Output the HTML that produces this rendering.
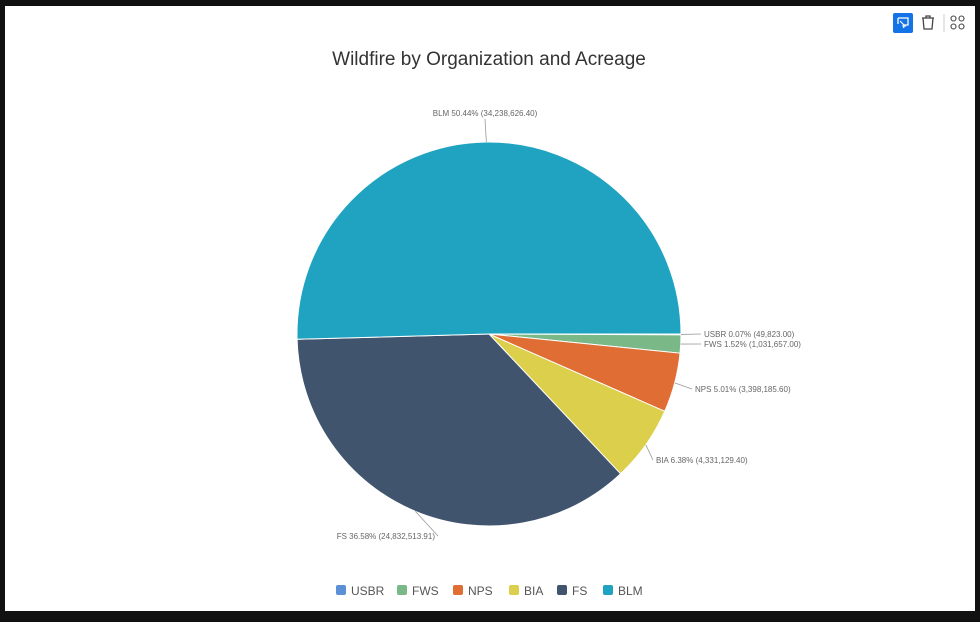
<!DOCTYPE html>
<html><head><meta charset="utf-8"><style>
html,body{margin:0;padding:0;background:#111;}
#frame{position:absolute;left:5px;top:6px;width:970px;height:605px;background:#fff;}
svg{position:absolute;left:0;top:0;}
text{font-family:"Liberation Sans",sans-serif;}
</style></head><body>
<div id="frame"></div>
<svg id="chart" width="980" height="622">
  <rect x="893" y="13" width="20" height="20" rx="2" fill="#1473e6"/>
  <path d="M898 18h10v7h-4M898 18v6" stroke="#fff" stroke-width="1.3" fill="none"/>
  <path d="M900 21l5 5-2 0 1 2" stroke="#fff" stroke-width="1.2" fill="none"/>
  <g stroke="#444" fill="none" stroke-width="1.3">
    <path d="M922 18h12M926 18v-2h4v2M923 18l1 11h8l1-11"/>
  </g>
  <line x1="944" y1="14" x2="944" y2="32" stroke="#ccc"/>
  <g stroke="#444" fill="none" stroke-width="1.1">
    <circle cx="953.5" cy="18.5" r="2.5"/><circle cx="961.5" cy="18.5" r="2.5"/><circle cx="953.5" cy="26.5" r="2.5"/><circle cx="961.5" cy="26.5" r="2.5"/>
  </g>
  <text x="489" y="65" font-size="19" fill="#333" text-anchor="middle">Wildfire by Organization and Acreage</text>
  <g id="slices"></g>
  <g id="labels"></g>
  <g id="legend"></g>
</svg>
<script>
const categories=["USBR","FWS","NPS","BIA","FS","BLM"];
const values=[49823.00,1031657.00,3398185.60,4331129.40,24832513.91,34238626.40];
const colors=["#5b8fd6","#7bb887","#e06d33","#dccf4b","#40546e","#1fa3c1"];
const labelPos=[[704,337,"start"],[704,347,"start"],[695,392,"start"],[656,463,"start"],[435,539,"end"],[485,116,"middle"]];
const cx=489,cy=334,r=192;
const NS="http://www.w3.org/2000/svg";
const total=values.reduce((a,b)=>a+b,0);
const sg=document.getElementById('slices'),lg=document.getElementById('labels'),leg=document.getElementById('legend');
function pt(a,rr){return [cx+rr*Math.cos(a),cy+rr*Math.sin(a)];}
let a0=0;
values.forEach((v,i)=>{
  const a1=a0+v/total*2*Math.PI;
  const p0=pt(a0,r),p1=pt(a1,r);
  const large=(a1-a0)>Math.PI?1:0;
  const p=document.createElementNS(NS,'path');
  p.setAttribute('d',`M${cx},${cy}L${p0[0]},${p0[1]}A${r},${r} 0 ${large} 1 ${p1[0]},${p1[1]}Z`);
  p.setAttribute('fill',colors[i]);p.setAttribute('stroke','#fff');p.setAttribute('stroke-width','1');
  
  
  sg.appendChild(p);
  const am=(a0+a1)/2,m=pt(am,r);
  const lp=labelPos[i];
  let ex=lp[2]==="start"?lp[0]-3:lp[2]==="end"?lp[0]+3:lp[0];
  let ey=lp[2]==="middle"?lp[1]+3:lp[1]-3;
  const l=document.createElementNS(NS,'line');
  l.setAttribute('x1',m[0]);l.setAttribute('y1',m[1]);l.setAttribute('x2',ex);l.setAttribute('y2',ey);
  l.setAttribute('stroke','#999');l.setAttribute('stroke-width','0.8');
  
  
  lg.appendChild(l);
  const t=document.createElementNS(NS,'text');
  t.setAttribute('x',lp[0]);t.setAttribute('y',lp[1]);t.setAttribute('text-anchor',lp[2]);
  t.setAttribute('font-size','8');t.setAttribute('fill','#666');
  t.textContent=`${categories[i]} ${(v/total*100).toFixed(2)}% (${v.toLocaleString('en-US',{minimumFractionDigits:2,maximumFractionDigits:2})})`;
  
  
  lg.appendChild(t);
  a0=a1;
});
const legX=[336,397,453,509,557,603];
categories.forEach((c,i)=>{
  const g=document.createElementNS(NS,'g');
  
  
  const s=document.createElementNS(NS,'rect');
  s.setAttribute('x',legX[i]);s.setAttribute('y',585);s.setAttribute('width',10);s.setAttribute('height',10);s.setAttribute('rx',2);
  s.setAttribute('fill',colors[i]);
  g.appendChild(s);
  const t=document.createElementNS(NS,'text');
  t.setAttribute('x',legX[i]+15);t.setAttribute('y',595);t.setAttribute('font-size','12');t.setAttribute('fill','#555');
  t.textContent=c;
  g.appendChild(t);
  leg.appendChild(g);
});
</script>
</body></html>
